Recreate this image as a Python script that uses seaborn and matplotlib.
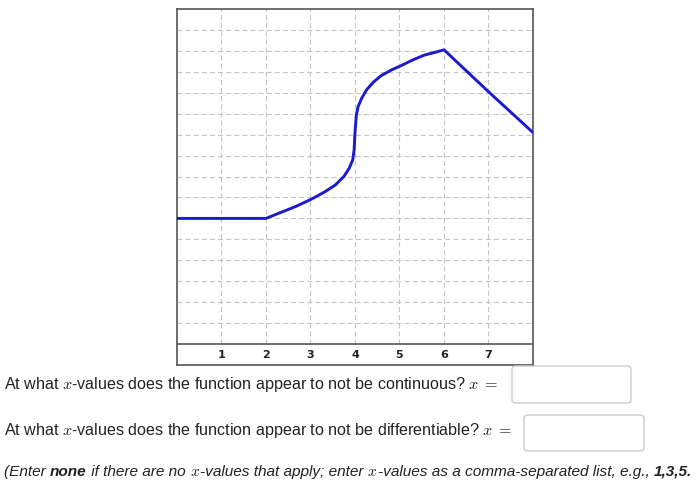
import numpy as np
import pandas as pd
import matplotlib
matplotlib.use("Agg")
import matplotlib.pyplot as plt
from matplotlib.patches import FancyBboxPatch
import seaborn as sns

# ---- data (grid units) ----
curve_x = [0, 2.0, 2.29, 2.67, 3.02, 3.33, 3.56, 3.75, 3.87, 3.95, 3.98, 4.0,
           4.03, 4.07, 4.15, 4.26, 4.41, 4.59, 4.82, 5.04, 5.3, 5.56, 5.78,
           6.0, 7.0, 8.0]
curve_y = [6.0, 6.0, 6.25, 6.57, 6.92, 7.28, 7.6, 8.0, 8.4, 8.8, 9.27, 10.1,
           10.94, 11.34, 11.74, 12.14, 12.5, 12.82, 13.09, 13.3, 13.57, 13.8, 13.92,
           14.05, 12.05, 10.1]
x_ticks = [1, 2, 3, 4, 5, 6, 7]
y_grid = list(range(1, 16))
x_limits = (0, 8)
y_limits = (-1, 16)

question1 = r"At what $x$-values does the function appear to not be continuous? $x\;=$"
question2 = r"At what $x$-values does the function appear to not be differentiable? $x\;=$"
note_parts = [("(Enter ", "italic", "normal"), ("none", "italic", "bold"),
              (" if there are no ", "italic", "normal"), ("$x$", "math", "normal"),
              ("-values that apply; enter ", "italic", "normal"), ("$x$", "math", "normal"),
              ("-values as a comma-separated list, e.g., ", "italic", "normal"),
              ("1,3,5.", "italic", "bold")]

sns.set_theme(style="white")
plt.rcParams["font.family"] = ["Liberation Sans", "DejaVu Sans"]
plt.rcParams["mathtext.fontset"] = "cm"

W, H = 700, 499
fig = plt.figure(figsize=(W / 100, H / 100), dpi=100)
fig.patch.set_facecolor("white")

ax = fig.add_axes([177 / W, (H - 365) / H, 356 / W, 356 / H])
ax.set_xlim(*x_limits)
ax.set_ylim(*y_limits)

grid_kw = dict(color="#c4c4c4", lw=0.8, linestyle=(0, (4.5, 2.8)), zorder=1)
ax.vlines(x_ticks, 0, y_limits[1], **grid_kw)
ax.hlines(y_grid, x_limits[0], x_limits[1], **grid_kw)
ax.axhline(0, color="#555555", lw=1.2, zorder=2)

df = pd.DataFrame({"x": curve_x, "y": curve_y})
sns.lineplot(data=df, x="x", y="y", ax=ax, color="#1a1ad0", lw=2.1,
             sort=False, estimator=None, zorder=3)

for t in x_ticks:
    ax.text(t, -0.5, str(t), ha="center", va="center", fontsize=8,
            fontweight="bold", color="#222222", family="DejaVu Sans")

ax.set_xticks([])
ax.set_yticks([])
ax.set_xlabel("")
ax.set_ylabel("")
for s in ax.spines.values():
    s.set_color("#555555")
    s.set_linewidth(1.2)

# ---- question text ----
fs = 11.6
fig.text(4 / W, (H - 384) / H, question1, ha="left", va="center",
         fontsize=fs, color="#222222")
fig.text(4 / W, (H - 431) / H, question2, ha="left", va="center",
         fontsize=fs, color="#222222")

for (x0, y0, x1, y1) in [(512, 366, 631, 403), (524, 415, 644, 451)]:
    box = FancyBboxPatch((x0 / W, (H - y1) / H), (x1 - x0) / W, (y1 - y0) / H,
                         boxstyle="round,pad=0,rounding_size=0.006",
                         transform=fig.transFigure, facecolor="white",
                         edgecolor="#cccccc", lw=1.0)
    fig.patches.append(box)

renderer = fig.canvas.get_renderer()
fs3 = 11.1
xpos = 4
ypos = (H - 472) / H
for txt, style, weight in note_parts:
    if style == "math":
        t = fig.text(xpos / W, ypos, txt, ha="left", va="center", fontsize=fs3,
                     color="#222222")
    else:
        t = fig.text(xpos / W, ypos, txt, ha="left", va="center", fontsize=fs3,
                     style="italic", fontweight=weight, color="#222222")
    bb = t.get_window_extent(renderer=renderer)
    xpos += bb.width

fig.savefig("out.png", dpi=100, facecolor="white")
